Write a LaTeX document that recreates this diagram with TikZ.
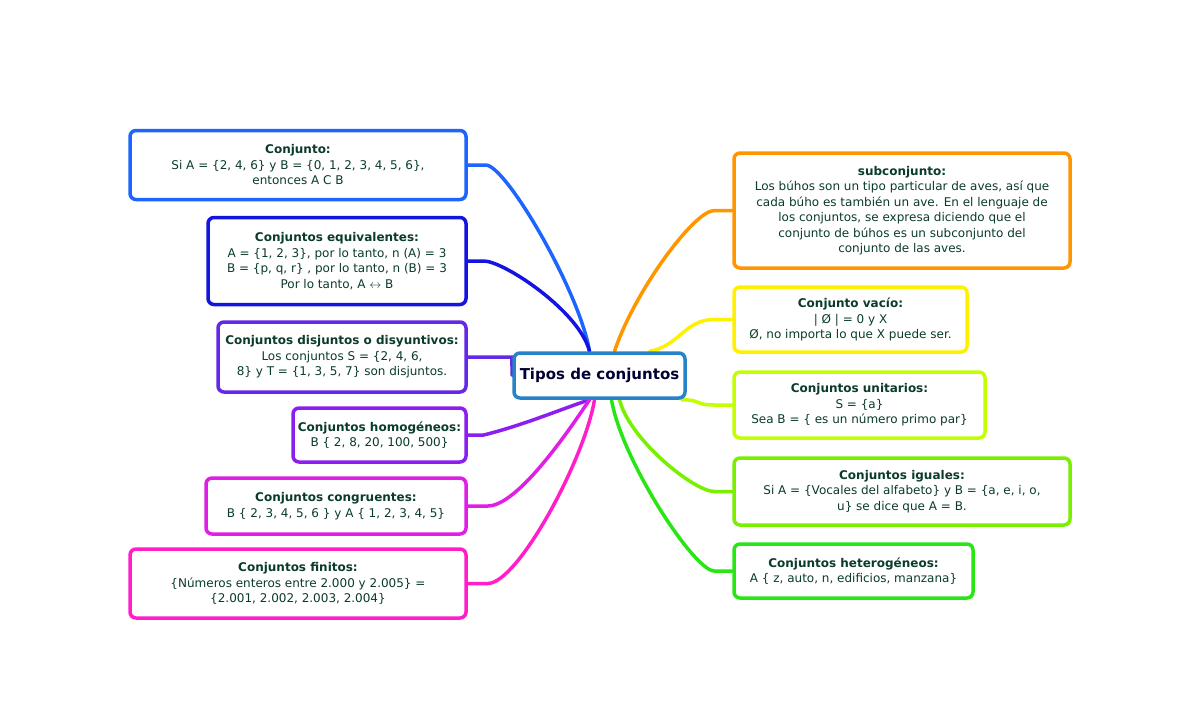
\documentclass[tikz,border=0pt]{standalone}
\usepackage{fontspec}
\setmainfont{DejaVu Sans}
\usetikzlibrary{positioning, backgrounds}
\definecolor{txt}{RGB}{10,60,40}
\definecolor{cA}{RGB}{30,100,255}
\definecolor{cB}{RGB}{20,20,225}
\definecolor{cC}{RGB}{100,40,230}
\definecolor{cD}{RGB}{140,30,240}
\definecolor{cE}{RGB}{225,30,230}
\definecolor{cF}{RGB}{255,30,200}
\definecolor{cG}{RGB}{255,150,0}
\definecolor{cH}{RGB}{255,240,0}
\definecolor{cI}{RGB}{195,255,0}
\definecolor{cJ}{RGB}{120,240,0}
\definecolor{cK}{RGB}{40,230,20}
\definecolor{hub}{RGB}{40,130,200}
\tikzset{
  box/.style={draw=#1, line width=3.5pt, rounded corners=6pt, fill=white, text=txt,
    align=center, inner sep=0pt, font=\fontsize{12}{15.5}\selectfont},
  link/.style={line width=3.5pt, draw=#1, line cap=round},
}
\newcommand{\ttl}[1]{\textbf{#1}}
\begin{document}
\begin{tikzpicture}[x=1pt,y=-1pt]
\useasboundingbox (0,0) rectangle (1200,718);
% left side
\node[box=cA, minimum width=336, minimum height=69] (conj) at (298,165) {\ttl{Conjunto:}\\Si A = \{2, 4, 6\} y B = \{0, 1, 2, 3, 4, 5, 6\},\\entonces A C B};
\node[box=cB, minimum width=258, minimum height=87] (equi) at (337,261) {\ttl{Conjuntos equivalentes:}\\A = \{1, 2, 3\}, por lo tanto, n (A) = 3\\B = \{p, q, r\} , por lo tanto, n (B) = 3\\Por lo tanto, A $\leftrightarrow$ B};
\node[box=cC, minimum width=248, minimum height=70] (disj) at (342,357) {\ttl{Conjuntos disjuntos o disyuntivos:}\\Los conjuntos S = \{2, 4, 6,\\8\} y T = \{1, 3, 5, 7\} son disjuntos.};
\node[box=cD, minimum width=173, minimum height=54] (homo) at (379.5,435) {\ttl{Conjuntos homogéneos:}\\B \{ 2, 8, 20, 100, 500\}};
\node[box=cE, minimum width=260, minimum height=56] (cong) at (336,506) {\ttl{Conjuntos congruentes:}\\B \{ 2, 3, 4, 5, 6 \} y A \{ 1, 2, 3, 4, 5\}};
\node[box=cF, minimum width=336, minimum height=69] (fini) at (298,583.5) {\ttl{Conjuntos finitos:}\\\{Números enteros entre 2.000 y 2.005\} =\\\{2.001, 2.002, 2.003, 2.004\}};
% right side
\node[box=cG, minimum width=336, minimum height=115] (subc) at (902,210.5) {\ttl{subconjunto:}\\Los búhos son un tipo particular de aves, así que\\cada búho es también un ave. En el lenguaje de\\los conjuntos, se expresa diciendo que el\\conjunto de búhos es un subconjunto del\\conjunto de las aves.};
\node[box=cH, minimum width=233, minimum height=65] (vaci) at (850.5,319.5) {\ttl{Conjunto vacío:}\\| Ø | = 0 y X\\Ø, no importa lo que X puede ser.};
\node[box=cI, minimum width=251, minimum height=66] (unit) at (859.5,405) {\ttl{Conjuntos unitarios:}\\S = \{a\}\\Sea B = \{ es un número primo par\}};
\node[box=cJ, minimum width=336, minimum height=67] (igua) at (902,491.5) {\ttl{Conjuntos iguales:}\\Si A = \{Vocales del alfabeto\} y B = \{a, e, i, o,\\u\} se dice que A = B.};
\node[box=cK, minimum width=239, minimum height=54] (hete) at (853.5,571) {\ttl{Conjuntos heterogéneos:}\\A \{ z, auto, n, edificios, manzana\}};
% hub
\node[box=hub, minimum width=171, minimum height=45, font=\fontsize{15}{18}\selectfont\bfseries, text=black!80!blue] (tipo) at (599.5,375.5) {Tipos de conjuntos};
% connectors
\begin{scope}[on background layer]
\draw[link=cA] (conj.east) -- ++(18,0) .. controls +(20,0) and +(-10,-60) .. ([xshift=-10pt]tipo.north);
\draw[link=cB] (equi.east) -- ++(16,0) .. controls +(20,0) and +(-10,-40) .. ([xshift=-10pt]tipo.north);
\draw[link=cC] (disj.east) -- ++(44,0) -- (tipo.west);
\draw[link=cD] (homo.east) -- ++(16,0) .. controls +(40,-10) and +(-30,10) .. ([xshift=-10pt]tipo.south);
\draw[link=cE] (cong.east) -- ++(20,0) .. controls +(30,0) and +(-20,30) .. ([xshift=-10pt]tipo.south);
\draw[link=cF] (fini.east) -- ++(20,0) .. controls +(30,0) and +(-10,60) .. ([xshift=-5pt]tipo.south);
\draw[link=cG] (subc.west) -- ++(-18,0) .. controls +(-20,0) and +(20,-60) .. ([xshift=15pt]tipo.north);
\draw[link=cH] (vaci.west) -- ++(-18,0) .. controls +(-30,0) and +(30,-5) .. ([xshift=50pt]tipo.north);
\draw[link=cI] (unit.west) -- ++(-18,0) .. controls +(-20,0) and +(20,0) .. ([xshift=-5pt]tipo.south east);
\draw[link=cJ] (igua.west) -- ++(-18,0) .. controls +(-20,0) and +(10,40) .. ([xshift=20pt]tipo.south);
\draw[link=cK] (hete.west) -- ++(-18,0) .. controls +(-20,0) and +(10,60) .. ([xshift=12pt]tipo.south);
\end{scope}
\end{tikzpicture}
\end{document}
